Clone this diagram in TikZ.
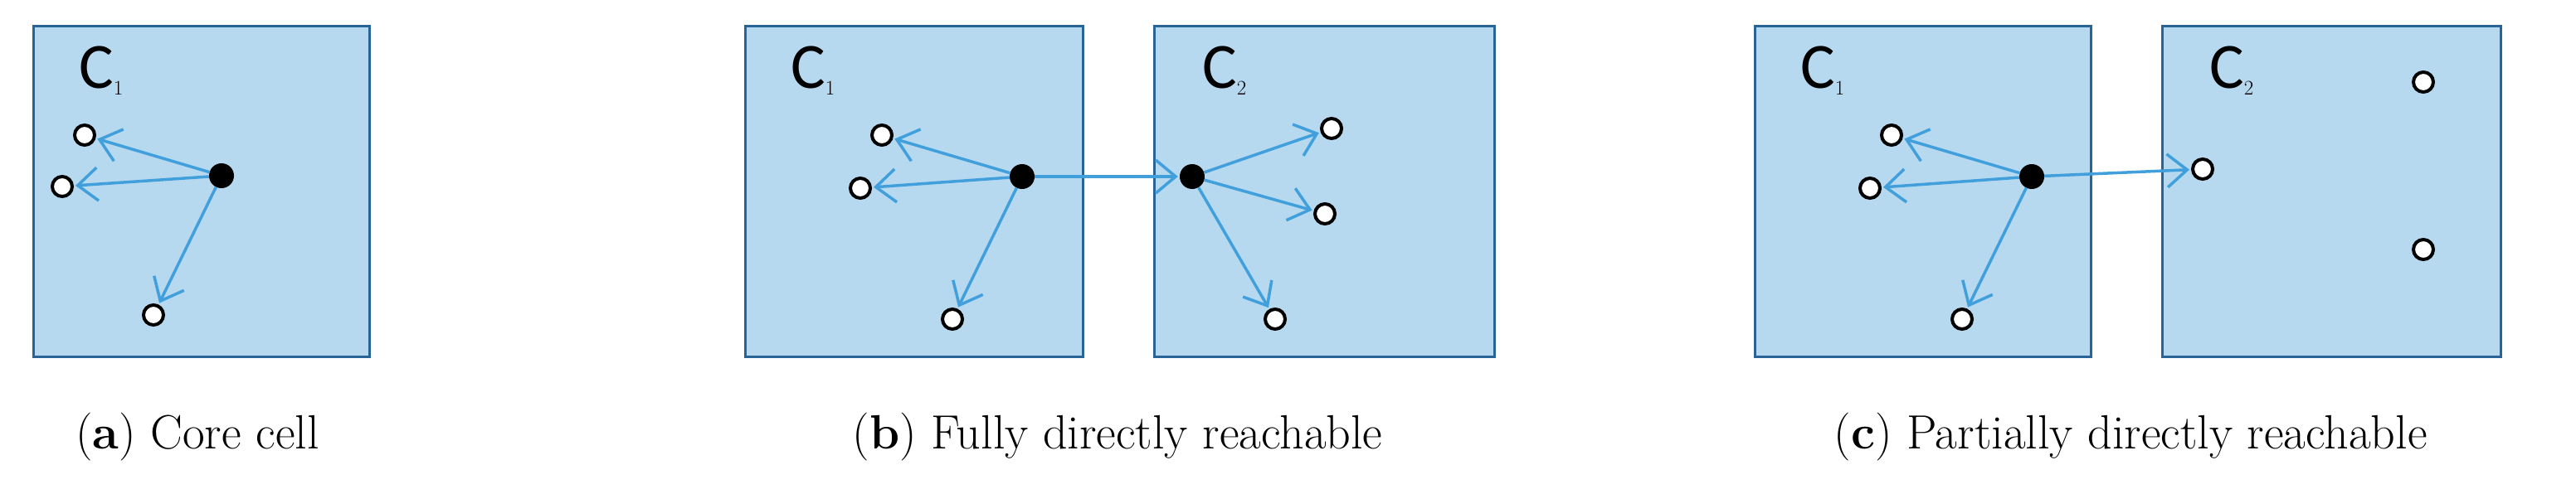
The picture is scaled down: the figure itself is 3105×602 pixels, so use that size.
\documentclass[tikz,border=0pt]{standalone}
\usepackage{fontspec}
\setmainfont{Latin Modern Roman}
\newfontfamily\carlitofont{Carlito}
\usetikzlibrary{arrows.meta}
\definecolor{cellfill}{RGB}{183,217,240}
\definecolor{celldraw}{RGB}{40,100,150}
\definecolor{arr}{RGB}{65,160,220}
\begin{document}
\begin{tikzpicture}[x=1pt,y=-1pt,
 cell/.style={fill=cellfill,draw=celldraw,line width=3pt},
 lab/.style={font=\carlitofont\fontsize{78}{80}\selectfont,anchor=center},
 op/.style={circle,draw=black,fill=white,line width=4pt,minimum size=24pt,inner sep=0pt},
 bl/.style={circle,fill=black,minimum size=30pt,inner sep=0pt},
 ar/.style={draw=arr,line width=3.5pt,-{Straight Barb[length=24pt,width=40pt,line width=3.5pt]},shorten >=2pt},
 captxt/.style={font=\fontsize{58}{62}\selectfont,anchor=center}]
\useasboundingbox (0,0) rectangle (3105,602);
% (a)
\draw[cell] (40,32) rectangle (445,430);
\node[lab] (la) at (122,85) {C$_1$};
\node[op] (a1) at (102,163) {};
\node[op] (a2) at (75,225) {};
\node[op] (a3) at (185,380) {};
\node[bl] (a0) at (267,212) {};
\draw[ar] (a0) -- (a1); \draw[ar] (a0) -- (a2); \draw[ar] (a0) -- (a3);
% (b)
\draw[cell] (898,32) rectangle (1305,430);
\draw[cell] (1391,32) rectangle (1801,430);
\node[lab] (lb1) at (980,85) {C$_1$};
\node[lab] (lb2) at (1476,85) {C$_2$};
\node[op] (b1) at (1063,163) {};
\node[op] (b2) at (1037,227) {};
\node[op] (b3) at (1148,385) {};
\node[bl] (b0) at (1232,213) {};
\node[op] (b5) at (1605,155) {};
\node[op] (b6) at (1597,258) {};
\node[op] (b7) at (1537,385) {};
\node[bl] (b4) at (1437,213) {};
\draw[ar] (b0) -- (b1); \draw[ar] (b0) -- (b2); \draw[ar] (b0) -- (b3);
\draw[ar] (b0) -- (b4);
\draw[ar] (b4) -- (b5); \draw[ar] (b4) -- (b6); \draw[ar] (b4) -- (b7);
% (c)
\draw[cell] (2115,32) rectangle (2520,430);
\draw[cell] (2606,32) rectangle (3014,430);
\node[lab] (lc1) at (2197,85) {C$_1$};
\node[lab] (lc2) at (2690,85) {C$_2$};
\node[op] (c1) at (2280,163) {};
\node[op] (c2) at (2254,227) {};
\node[op] (c3) at (2365,385) {};
\node[bl] (c0) at (2449,213) {};
\node[op] (c4) at (2655,204) {};
\node[op] (c5) at (2921,99) {};
\node[op] (c6) at (2921,301) {};
\draw[ar] (c0) -- (c1); \draw[ar] (c0) -- (c2); \draw[ar] (c0) -- (c3);
\draw[ar] (c0) -- (c4);
% captions
\node[captxt] (ta) at (238,527) {(\textbf{a}) Core cell};
\node[captxt] (tb) at (1347,527) {(\textbf{b}) Fully directly reachable};
\node[captxt] (tc) at (2568,527) {(\textbf{c}) Partially directly reachable};
\end{tikzpicture}
\end{document}
